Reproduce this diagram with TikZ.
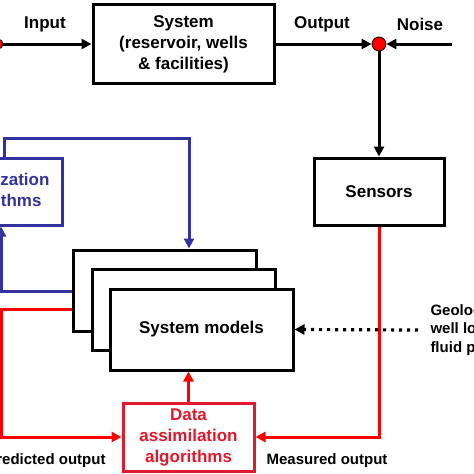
\documentclass[tikz,border=0pt]{standalone}
\usepackage{fontspec}
\setmainfont{Liberation Sans}
\usetikzlibrary{arrows.meta, positioning}
\definecolor{optblue}{RGB}{50,50,160}
\definecolor{dared}{RGB}{225,25,45}
\tikzset{
  box/.style={draw, line width=3pt, align=center, inner sep=0pt},
  optbox/.style={box, draw=optblue, text=optblue},
  dabox/.style={box, draw=dared, text=dared, fill=white},
  sumdot/.style={circle, draw=black, line width=0.8pt, fill=red, minimum size=14pt, inner sep=0pt},
  arr/.style={-{Triangle[length=10pt, width=10pt]}},
  bluearr/.style={arr, draw=optblue},
  redarr/.style={arr, draw=red},
  dotarr/.style={arr, line width=3.2pt, dash pattern=on 3pt off 5pt},
  small/.style={font=\bfseries\fontsize{15}{18.5}\selectfont}
}
\begin{document}
\begin{tikzpicture}[x=1pt, y=-1pt, line width=3pt,
  every node/.style={font=\bfseries\fontsize{17}{21}\selectfont}]
  \useasboundingbox (0,0) rectangle (474,474);
  \clip (0,0) rectangle (474,474);

  % upper loop
  \node[box, minimum width=181pt, minimum height=79pt] (sys) at (183.5,44) {System\\(reservoir, wells\\\& facilities)};
  \node[sumdot] (sum) at (379,44) {};
  \node[sumdot, minimum size=10pt] (src) at (-2,44) {};
  \coordinate (noise) at (452,44);
  \node[box, minimum width=130pt, minimum height=67pt] (sens) at (379,191.5) {Sensors};

  \node (inp) at (45,24) {Input};
  \node (out) at (322,24) {Output};
  \node (noiselbl) at (420,24) {Noise};

  \draw[arr] (src) -- (sys.west);
  \draw[arr] (sys) -- (sum);
  \draw[arr] (noise) -- (sum);
  \draw[arr] (sum) -- (sens);

  % models and algorithms
  \node[optbox, minimum width=128pt, minimum height=67pt] (opt) at (-2,191.5) {Optimization\\algorithms};
  \node[box, fill=white, minimum width=183pt, minimum height=81pt] (modA) at (164.5,290.5) {};
  \node[box, fill=white, minimum width=183pt, minimum height=81pt] (modB) at (183.5,309.5) {};
  \node[box, fill=white, minimum width=183pt, minimum height=81pt] (modC) at (201.5,329.5) {System models};
  \node[dabox, minimum width=131pt, minimum height=68pt] (da) at (188.5,437) {Data\\assimilation\\algorithms};

  \coordinate (b0) at (4,138);
  \coordinate (b1) at (189,138);
  \coordinate (b2) at (1,291);
  \coordinate (r1) at (1.5,309);
  \coordinate (geo) at (418,330);

  \draw[bluearr] (opt.north -| b0) |- (b1) -- (modA.north -| b1);
  \draw[bluearr] (modA.west |- b2) -| (opt.south -| b2);
  \draw[redarr] (modA.west |- r1) -| (da.west -| r1) -- (da.west);
  \draw[redarr] (sens.south) |- (da.east);
  \draw[redarr] (da.north) -- (da.north |- modC.south);
  \draw[dotarr] (geo) -- (modC.east);

  \node[small, anchor=east, inner sep=0pt] (pred) at (107,461) {Predicted output};
  \node[small] (meas) at (327,461) {Measured output};
  \node[small, anchor=west, align=left, inner sep=0pt] (geotxt) at (429,330) {Geological data,\\well logs,\\fluid properties};
\end{tikzpicture}
\end{document}
